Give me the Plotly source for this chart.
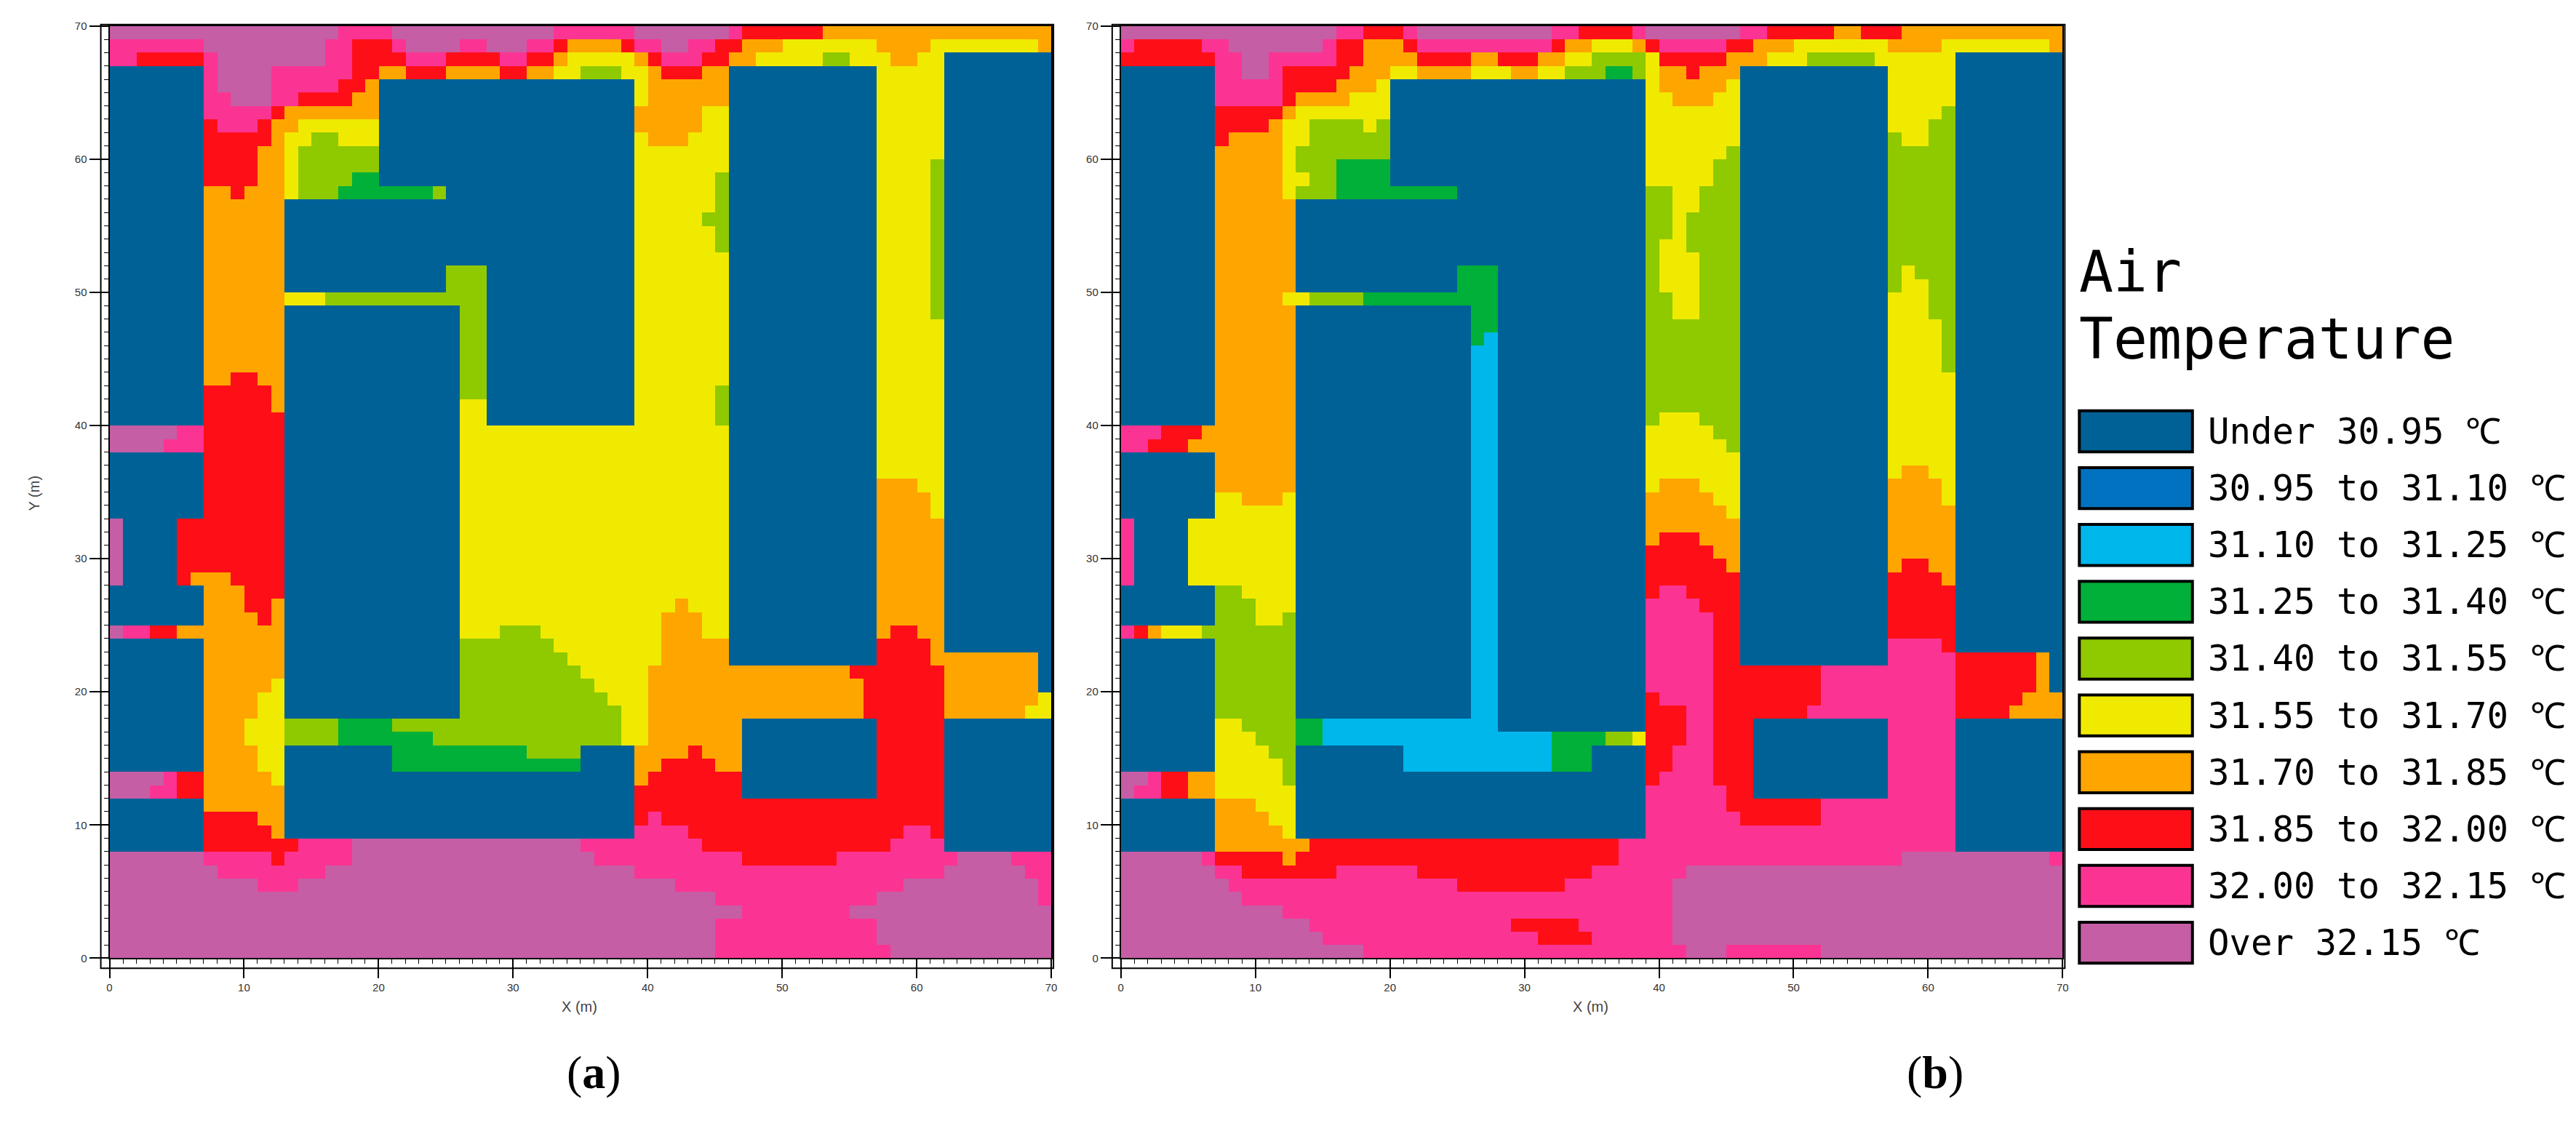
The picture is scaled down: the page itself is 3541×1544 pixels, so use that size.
import plotly.graph_objects as go

# temperature classes (legend order) and their colours
LABELS = ["Under 30.95 ℃", "30.95 to 31.10 ℃", "31.10 to 31.25 ℃", "31.25 to 31.40 ℃",
          "31.40 to 31.55 ℃", "31.55 to 31.70 ℃", "31.70 to 31.85 ℃", "31.85 to 32.00 ℃",
          "32.00 to 32.15 ℃", "Over 32.15 ℃"]
COLORS = ["#006196", "#0072bf", "#00b7ec", "#00b038", "#8fc900",
          "#f0ea00", "#ffa500", "#fe0f18", "#fb3494", "#c55ea4"]
CODES = "BbCGgYORPM"   # one letter per class, same order as LABELS

# each row: class letter + x where the run ends (1 m cells), rows from y=69 down to y=0
ROWS_A = [
    "M17 P21 M33 P39 M46 P47 R53 O70",
    "P7 M16 P18 R21 P22 M26 P28 M31 P33 R34 O38 R39 P41 M43 P45 R47 O50 Y57 O61 Y69 O70",
    "P2 R7 P8 M16 P18 R22 P25 R29 P31 R33 O34 Y39 O40 R41 P44 R46 O48 Y53 g55 Y58 O60 Y62 B70",
    "B7 P8 M12 P18 R20 O22 R25 O29 R31 O33 Y35 g38 Y40 O41 R44 O46 B57 Y62 B70",
    "B7 P8 M12 P17 R19 O20 B39 Y40 O46 B57 Y62 B70",
    "B7 P9 M12 P14 R18 O20 B39 Y40 O46 B57 Y62 B70",
    "B7 P12 R13 O20 B39 O44 Y46 B57 Y62 B70",
    "B7 R8 P11 R12 O14 Y20 B39 O44 Y46 B57 Y62 B70",
    "B7 R12 O13 Y15 g17 Y20 B39 Y40 O43 Y46 B57 Y62 B70",
    "B7 R11 O13 Y14 g20 B39 Y46 B57 Y62 B70",
    "B7 R11 O13 Y14 g20 B39 Y46 B57 Y61 g62 B70",
    "B7 R11 O13 Y14 g18 G20 B39 Y45 g46 B57 Y61 g62 B70",
    "B7 O9 R10 O13 Y14 g17 G24 g25 B39 Y45 g46 B57 Y61 g62 B70",
    "B7 O13 B39 Y45 g46 B57 Y61 g62 B70",
    "B7 O13 B39 Y44 g46 B57 Y61 g62 B70",
    "B7 O13 B39 Y45 g46 B57 Y61 g62 B70",
    "B7 O13 B39 Y45 g46 B57 Y61 g62 B70",
    "B7 O13 B39 Y46 B57 Y61 g62 B70",
    "B7 O13 B25 g28 B39 Y46 B57 Y61 g62 B70",
    "B7 O13 B25 g28 B39 Y46 B57 Y61 g62 B70",
    "B7 O13 Y16 g28 B39 Y46 B57 Y61 g62 B70",
    "B7 O13 B26 g28 B39 Y46 B57 Y61 g62 B70",
    "B7 O13 B26 g28 B39 Y46 B57 Y62 B70",
    "B7 O13 B26 g28 B39 Y46 B57 Y62 B70",
    "B7 O13 B26 g28 B39 Y46 B57 Y62 B70",
    "B7 O13 B26 g28 B39 Y46 B57 Y62 B70",
    "B7 O9 R11 O13 B26 g28 B39 Y46 B57 Y62 B70",
    "B7 R12 O13 B26 g28 B39 Y45 g46 B57 Y62 B70",
    "B7 R12 O13 B26 Y28 B39 Y45 g46 B57 Y62 B70",
    "B7 R13 B26 Y28 B39 Y45 g46 B57 Y62 B70",
    "M5 P7 R13 B26 Y46 B57 Y62 B70",
    "M4 P7 R13 B26 Y46 B57 Y62 B70",
    "B7 R13 B26 Y46 B57 Y62 B70",
    "B7 R13 B26 Y46 B57 Y62 B70",
    "B7 R13 B26 Y46 B57 O60 Y62 B70",
    "B7 R13 B26 Y46 B57 O61 Y62 B70",
    "B7 R13 B26 Y46 B57 O61 Y62 B70",
    "M1 B5 R13 B26 Y46 B57 O62 B70",
    "M1 B5 R13 B26 Y46 B57 O62 B70",
    "M1 B5 R13 B26 Y46 B57 O62 B70",
    "M1 B5 R13 B26 Y46 B57 O62 B70",
    "M1 B5 R6 O9 R13 B26 Y46 B57 O62 B70",
    "B7 O10 R13 B26 Y46 B57 O62 B70",
    "B7 O10 R12 O13 B26 Y42 O43 Y46 B57 O62 B70",
    "B7 O11 R12 O13 B26 Y41 O44 Y46 B57 O62 B70",
    "M1 P3 R5 O13 B26 Y29 g32 Y41 O44 Y46 B57 O58 R60 O62 B70",
    "B7 O13 B26 g33 Y41 O46 B57 R61 O62 B70",
    "B7 O13 B26 g34 Y41 O46 B57 R61 O69 B70",
    "B7 O13 B26 g35 Y40 O55 R62 O69 B70",
    "B7 O12 Y13 B26 g36 Y40 O56 R62 O69 B70",
    "B7 O11 Y13 B26 g37 Y40 O56 R62 O69 Y70",
    "B7 O11 Y13 B26 g38 Y40 O56 R62 O68 Y70",
    "B7 O10 Y13 g17 G21 g38 Y40 O47 B57 R62 B70",
    "B7 O10 Y13 g17 G24 g38 Y40 O47 B57 R62 B70",
    "B7 O11 Y13 B21 G31 g35 B39 O43 R44 O47 B57 R62 B70",
    "B7 O11 Y13 B21 G35 B39 O41 R45 O47 B57 R62 B70",
    "M4 P5 R7 O12 Y13 B39 O40 R47 B57 R62 B70",
    "M3 P5 R7 O13 B39 R47 B57 R62 B70",
    "B7 O13 B39 R62 B70",
    "B7 R11 O13 B39 R40 P41 R62 B70",
    "B7 R12 O13 B39 P43 R59 P61 R62 B70",
    "B7 R14 P18 M35 P44 R58 P62 B70",
    "M7 P12 R13 P18 M36 P47 R54 P63 M67 P70",
    "M8 P16 M39 P62 M68 P70",
    "M11 P14 M42 P59 M69 P70",
    "M45 P57 M69 P70",
    "M47 P55 M70",
    "M45 P57 M70",
    "M45 P57 M70",
    "M45 P58 M70",
]

ROWS_B = [
    "M16 P18 R21 P22 M32 P34 R38 P39 M46 P48 R53 O55 R58 O70",
    "P1 R6 P8 M15 P16 R18 O21 R22 P32 R33 O35 Y38 O39 R40 P45 R47 O50 Y57 O61 Y69 O70",
    "R7 P9 M11 P16 R18 O22 R26 O28 R31 O33 Y35 g39 Y40 R45 O48 Y51 g56 Y62 B70",
    "B7 P9 M11 P12 R17 O20 Y22 O26 Y29 O31 Y33 g36 G38 g39 Y40 O42 R43 O46 B57 Y62 B70",
    "B7 P12 R16 O19 Y20 B39 Y40 O45 Y46 B57 Y62 B70",
    "B7 P12 R13 O17 Y20 B39 Y41 O44 Y46 B57 Y62 B70",
    "B7 R12 O13 Y20 B39 Y46 B57 Y61 g62 B70",
    "B7 R11 O12 Y14 g18 Y19 g20 B39 Y46 B57 Y60 g62 B70",
    "B7 R8 O12 Y14 g20 B39 Y46 B57 g58 Y60 g62 B70",
    "B7 O12 Y13 g20 B39 Y45 g46 B57 g62 B70",
    "B7 O12 Y13 g16 G20 B39 Y44 g46 B57 g62 B70",
    "B7 O12 Y14 g16 G20 B39 Y44 g46 B57 g62 B70",
    "B7 O12 Y13 g16 G25 B39 g41 Y43 g46 B57 g62 B70",
    "B7 O13 B39 g41 Y43 g46 B57 g62 B70",
    "B7 O13 B39 g41 Y42 g46 B57 g62 B70",
    "B7 O13 B39 g41 Y42 g46 B57 g62 B70",
    "B7 O13 B39 g40 Y42 g46 B57 g62 B70",
    "B7 O13 B39 g40 Y43 g46 B57 g62 B70",
    "B7 O13 B25 G28 B39 g40 Y43 g46 B57 g58 Y59 g62 B70",
    "B7 O13 B25 G28 B39 g40 Y43 g46 B57 g58 Y60 g62 B70",
    "B7 O12 Y14 g18 G28 B39 g41 Y43 g46 B57 Y60 g62 B70",
    "B7 O13 B26 G28 B39 g41 Y43 g46 B57 Y60 g62 B70",
    "B7 O13 B26 G28 B39 g46 B57 Y61 g62 B70",
    "B7 O13 B26 G27 C28 B39 g46 B57 Y61 g62 B70",
    "B7 O13 B26 C28 B39 g46 B57 Y61 g62 B70",
    "B7 O13 B26 C28 B39 g46 B57 Y61 g62 B70",
    "B7 O13 B26 C28 B39 g46 B57 Y62 B70",
    "B7 O13 B26 C28 B39 g46 B57 Y62 B70",
    "B7 O13 B26 C28 B39 g46 B57 Y62 B70",
    "B7 O13 B26 C28 B39 g40 Y43 g46 B57 Y62 B70",
    "P3 R6 O13 B26 C28 B39 Y44 g46 B57 Y62 B70",
    "P2 R5 O13 B26 C28 B39 Y45 g46 B57 Y62 B70",
    "B7 O13 B26 C28 B39 Y46 B57 Y62 B70",
    "B7 O13 B26 C28 B39 Y46 B57 Y58 O60 Y62 B70",
    "B7 O13 B26 C28 B39 Y40 O43 Y46 B57 O61 Y62 B70",
    "B7 Y9 O12 Y13 B26 C28 B39 O44 Y46 B57 O61 Y62 B70",
    "B7 Y13 B26 C28 B39 O45 Y46 B57 O62 B70",
    "P1 B5 Y13 B26 C28 B39 O46 B57 O62 B70",
    "P1 B5 Y13 B26 C28 B39 O40 R43 O46 B57 O62 B70",
    "P1 B5 Y13 B26 C28 B39 R44 O46 B57 O62 B70",
    "P1 B5 Y13 B26 C28 B39 R45 O46 B57 O58 R60 O62 B70",
    "P1 B5 Y13 B26 C28 B39 R46 B57 R61 O62 B70",
    "B7 g9 Y13 B26 C28 B39 R40 P42 R46 B57 R62 B70",
    "B7 g10 Y13 B26 C28 B39 P43 R46 B57 R62 B70",
    "B7 g10 Y12 g13 B26 C28 B39 P44 R46 B57 R62 B70",
    "P1 R2 O3 Y6 g13 B26 C28 B39 P44 R46 B57 R62 B70",
    "B7 g13 B26 C28 B39 P44 R46 B57 P61 R62 B70",
    "B7 g13 B26 C28 B39 P44 R46 B57 P62 R68 O69 B70",
    "B7 g13 B26 C28 B39 P44 R52 P62 R68 O69 B70",
    "B7 g13 B26 C28 B39 P44 R52 P62 R68 O69 B70",
    "B7 g13 B26 C28 B39 R40 P44 R52 P62 R67 O70",
    "B7 g13 B26 C28 B39 R42 P44 R51 P62 R66 O70",
    "B7 Y9 g13 G15 C28 B39 R42 P44 R47 B57 P62 B70",
    "B7 Y10 g13 G15 C32 G36 g38 Y39 R42 P44 R47 B57 P62 B70",
    "B7 Y11 g13 B21 C32 G35 B39 R41 P44 R47 B57 P62 B70",
    "B7 Y12 g13 B21 C32 G35 B39 R41 P44 R47 B57 P62 B70",
    "M2 P3 R5 O7 Y12 g13 B39 R40 P44 R47 B57 P62 B70",
    "M1 P3 R5 O7 Y13 B39 P45 R47 B57 P62 B70",
    "B7 O10 Y13 B39 P45 R52 P62 B70",
    "B7 O11 Y13 B39 P46 R52 P62 B70",
    "B7 O12 Y13 B39 P62 B70",
    "B7 O14 R37 P62 B70",
    "M6 P7 R12 O13 R37 P58 M69 P70",
    "M7 P9 R16 P22 R35 P42 M70",
    "M8 P25 R33 P41 M70",
    "M9 P41 M70",
    "M12 P41 M70",
    "M14 P29 R34 P41 M70",
    "M15 P31 R35 P41 M70",
    "M18 P42 M45 P52 M70",
]

TICKS = [0, 10, 20, 30, 40, 50, 60, 70]


def expand(row):
    cells = []
    for tok in row.split():
        code, end = CODES.index(tok[0]), int(tok[1:])
        cells += [code] * max(0, end - len(cells))
    cells = (cells + [cells[-1]] * 70)[:70]
    return cells


def grid(rows):
    return [expand(r) for r in reversed(rows)]   # z[0] is y=0..1


# page is 3541x1544, body has 8 px margin
W, H, OFF = 3541, 1544, 8
FW, FH = W - 2 * OFF, H - 2 * OFF


def fx(px):
    return (px - OFF) / FW


def fy(py):
    return 1 - (py - OFF) / FH


A_L, A_R, B_L, B_R, TOP, BOT = 147, 1446, 1542, 2841, 27, 1323

cs = []
for i, c in enumerate(COLORS):
    cs += [[i / 10, c], [(i + 1) / 10, c]]

fig = go.Figure()
for z, xa, ya in [(grid(ROWS_A), "x", "y"), (grid(ROWS_B), "x2", "y2")]:
    fig.add_trace(go.Heatmap(z=z, x0=0.5, dx=1, y0=0.5, dy=1, colorscale=cs,
                             zmin=-0.5, zmax=9.5, showscale=False, xaxis=xa, yaxis=ya,
                             hoverinfo="skip"))

ax = dict(range=[0, 70], tickvals=TICKS, ticks="outside", ticklen=26, tickwidth=2,
          tickcolor="black", showline=True, linewidth=2, linecolor="black", mirror=True,
          showgrid=False, zeroline=False,
          tickfont=dict(family="Liberation Sans", size=15, color="#333"),
          minor=dict(dtick=1, tick0=0, ticks="outside", ticklen=6, tickwidth=1,
                     tickcolor="black", showgrid=False))

fig.update_layout(
    width=FW, height=FH, margin=dict(l=0, r=0, t=0, b=0),
    paper_bgcolor="white", plot_bgcolor="white", showlegend=False,
    xaxis=dict(ax, domain=[fx(A_L), fx(A_R)], anchor="y"),
    yaxis=dict(ax, domain=[fy(BOT), fy(TOP)], anchor="x"),
    xaxis2=dict(ax, domain=[fx(B_L), fx(B_R)], anchor="y2"),
    yaxis2=dict(ax, domain=[fy(BOT), fy(TOP)], anchor="x2"),
)

shapes = []
# outer frame around each panel
for l, r in [(A_L, A_R), (B_L, B_R)]:
    shapes.append(dict(type="rect", xref="paper", yref="paper",
                       x0=fx(l - 12), x1=fx(r + 3), y0=fy(BOT + 14), y1=fy(TOP - 2),
                       line=dict(color="black", width=2)))

ann = []
axis_font = dict(family="Liberation Sans", size=20, color="#444")
ann.append(dict(text="Y (m)", x=fx(43), y=fy(676), textangle=-90, font=axis_font))
ann.append(dict(text="X (m)", x=fx(795), y=fy(1390), font=axis_font))
ann.append(dict(text="X (m)", x=fx(2190), y=fy(1390), font=axis_font))
panel_font = dict(family="Liberation Serif", size=64, color="black")
ann.append(dict(text="(<b>a</b>)", x=fx(815), y=fy(1482), font=panel_font))
ann.append(dict(text="(<b>b</b>)", x=fx(2665), y=fy(1482), font=panel_font))

# legend
mono = "DejaVu Sans Mono"
ann.append(dict(text="Air", x=fx(2862), y=fy(417), xanchor="left", yanchor="bottom",
                font=dict(family=mono, size=78, color="black")))
ann.append(dict(text="Temperature", x=fx(2862), y=fy(510), xanchor="left", yanchor="bottom",
                font=dict(family=mono, size=78, color="black")))
for i, (lab, col) in enumerate(zip(LABELS, COLORS)):
    top = 562 + 79 * i
    shapes.append(dict(type="rect", xref="paper", yref="paper",
                       x0=fx(2864), x1=fx(3020), y0=fy(top + 57), y1=fy(top),
                       fillcolor=col, line=dict(color="black", width=4)))
    ann.append(dict(text=lab, x=fx(3039), y=fy(top + 29), xanchor="left", yanchor="middle",
                    font=dict(family=mono, size=49, color="black")))

for a in ann:
    a.update(xref="paper", yref="paper", showarrow=False)
    a.setdefault("xanchor", "center")
    a.setdefault("yanchor", "middle")

fig.update_layout(shapes=shapes, annotations=ann)
fig.write_html("out.html")
